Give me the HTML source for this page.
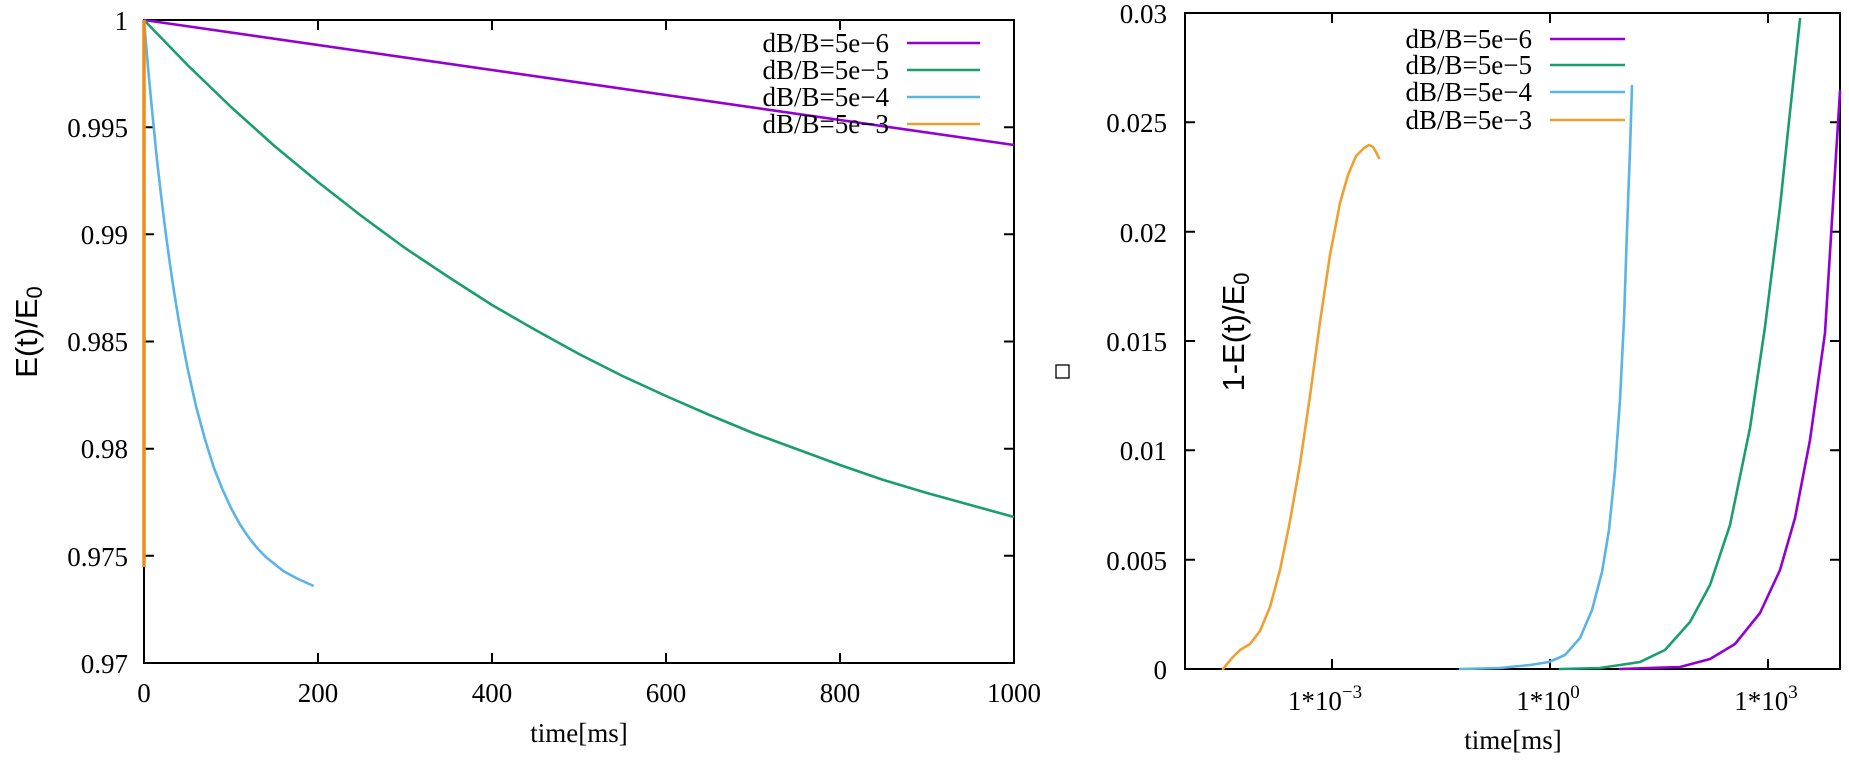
<!DOCTYPE html>
<html><head><meta charset="utf-8"><style>
html,body{margin:0;padding:0;background:#fff;width:100%;height:100%;overflow:hidden;}
svg{display:block;width:100vw;height:100vh;}
.t{font-family:"Liberation Serif",serif;font-size:27px;fill:#000;}
.lg{font-family:"Liberation Serif",serif;font-size:27px;fill:#000;}
.yl{font-family:"Liberation Sans",sans-serif;font-size:31px;fill:#000;}
</style></head><body>
<svg viewBox="0 0 1849 761" preserveAspectRatio="none" xmlns="http://www.w3.org/2000/svg">
<rect width="1849" height="761" fill="#fff"/>
<!-- LEFT PLOT -->
<g stroke="#000" stroke-width="2" fill="none">
<rect x="144" y="20" width="870" height="643"/>
<path d="M144 127.2h10M144 234.3h10M144 341.5h10M144 448.7h10M144 555.8h10
M1014 127.2h-10M1014 234.3h-10M1014 341.5h-10M1014 448.7h-10M1014 555.8h-10
M318 663v-10M492 663v-10M666 663v-10M840 663v-10
M318 20v10M492 20v10M666 20v10M840 20v10"/>
</g>
<g class="t" text-anchor="end">
<text x="128" y="30">1</text><text x="128" y="137">0.995</text><text x="128" y="244">0.99</text>
<text x="128" y="351">0.985</text><text x="128" y="458">0.98</text><text x="128" y="566">0.975</text><text x="128" y="673">0.97</text>
</g>
<g class="t" text-anchor="middle">
<text x="144" y="702">0</text><text x="318" y="702">200</text><text x="492" y="702">400</text>
<text x="666" y="702">600</text><text x="840" y="702">800</text><text x="1014" y="702">1000</text>
<text x="579" y="742">time[ms]</text>
</g>
<text class="yl" transform="translate(37,332) rotate(-90)" text-anchor="middle">E(t)/E<tspan font-size="22" dy="5">0</tspan></text>
<g fill="none" stroke-width="2.6" stroke-linejoin="round">
<path stroke="#9400d3" d="M144 20L1014 145"/>
<path stroke="#1a9e6e" d="M144 20 L187.5 65 L231 107 L274.5 146 L318 182 L361.5 216 L405 248 L448.5 277 L492 305 L535.5 330 L579 354 L622.5 376 L666 396 L709.5 415 L753 433 L796.5 449 L840 465 L883.5 480 L927 493 L970.5 505 L1014 517"/>
<path stroke="#5ab4e6" d="M144 20 L148.35 71 L152.7 117 L157 160 L161.4 198 L165.7 233 L170.1 265 L174.4 294 L178.8 321 L183.1 345 L187.5 368 L196.2 407 L204.9 439 L213.6 467 L222.3 489 L231 508 L239.7 524 L248.4 537 L257.1 548 L265.8 557 L274.5 564 L283.2 571 L298 579 L313.65 586"/>
<path stroke="#f08c1e" stroke-width="3.5" d="M144 20 L144 567"/>
</g>
<g class="lg" text-anchor="end">
<text x="889" y="52">dB/B=5e−6</text><text x="889" y="79">dB/B=5e−5</text>
<text x="889" y="106">dB/B=5e−4</text><text x="889" y="133">dB/B=5e−3</text>
</g>
<g stroke-width="2.6">
<path stroke="#9400d3" d="M907 43h73"/><path stroke="#1a9e6e" d="M907 70h73"/>
<path stroke="#5ab4e6" d="M907 97h73"/><path stroke="#e8a030" d="M907 124h73"/>
</g>
<!-- RIGHT PLOT -->
<g stroke="#000" stroke-width="2" fill="none">
<rect x="1185" y="13" width="655" height="656"/>
<path d="M1185 122.3h10M1185 231.7h10M1185 341h10M1185 450.3h10M1185 559.7h10
M1840 122.3h-10M1840 231.7h-10M1840 341h-10M1840 450.3h-10M1840 559.7h-10
M1332 669v-10M1550 669v-10M1768 669v-10M1332 13v10M1550 13v10M1768 13v10"/>
</g>
<g class="t" text-anchor="end">
<text x="1167" y="23">0.03</text><text x="1167" y="132">0.025</text><text x="1167" y="242">0.02</text>
<text x="1167" y="351">0.015</text><text x="1167" y="460">0.01</text><text x="1167" y="570">0.005</text><text x="1167" y="679">0</text>
</g>
<g class="t" text-anchor="middle">
<text x="1325" y="710">1*10<tspan font-size="19" dy="-12">−3</tspan></text>
<text x="1548" y="710">1*10<tspan font-size="19" dy="-12">0</tspan></text>
<text x="1766" y="710">1*10<tspan font-size="19" dy="-12">3</tspan></text>
<text x="1513" y="749">time[ms]</text>
</g>
<text class="yl" transform="translate(1244,332) rotate(-90)" text-anchor="middle">1-E(t)/E<tspan font-size="22" dy="5">0</tspan></text>
<rect x="1056" y="365" width="13" height="13" fill="none" stroke="#000" stroke-width="1.3"/>
<g fill="none" stroke-width="2.6" stroke-linejoin="round" stroke-linecap="round">
<path stroke="#f0a030" d="M1223 669 L1232 658 L1240 650 L1250 644 L1260 631 L1270 607 L1280 570 L1290 521 L1300 464 L1310 396 L1320 322 L1330 255 L1340 203 L1348 175 L1356 156 L1364 148 L1369 145 L1373 147 L1376 152 L1379 158"/>
<path stroke="#5ab4e6" d="M1460 669 L1500 668 L1530 665 L1549 662 L1565 655 L1580 638 L1592 610 L1602 572 L1609 530 L1615 470 L1620 400 L1624 320 L1627 230 L1630 150 L1632 86"/>
<path stroke="#1a9e6e" d="M1560 669 L1600 668 L1640 662 L1665 650 L1690 622 L1710 585 L1730 525 L1750 428 L1765 327 L1780 207 L1790 112 L1800 19"/>
<path stroke="#9400d3" d="M1620 669 L1680 667 L1710 659 L1735 644 L1760 613 L1780 570 L1795 518 L1810 440 L1825 333 L1840 91"/>
</g>
<g class="lg" text-anchor="end">
<text x="1532" y="48">dB/B=5e−6</text><text x="1532" y="74">dB/B=5e−5</text>
<text x="1532" y="101">dB/B=5e−4</text><text x="1532" y="129">dB/B=5e−3</text>
</g>
<g stroke-width="2.6">
<path stroke="#9400d3" d="M1550 39h75"/><path stroke="#1a9e6e" d="M1550 65h75"/>
<path stroke="#5ab4e6" d="M1550 92h75"/><path stroke="#e8a030" d="M1550 120h75"/>
</g>
</svg>
</body></html>
